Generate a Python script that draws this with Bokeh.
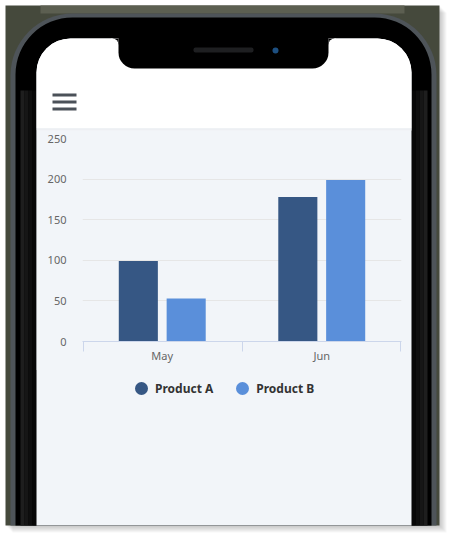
from bokeh.plotting import figure
from bokeh.layouts import column
from bokeh.models import (FactorRange, Range1d, FixedTicker, CategoricalAxis,
                          CategoricalScale, BoxAnnotation, Legend, LegendItem)
from bokeh.transform import dodge
from bokeh.embed import file_html
from bokeh.resources import INLINE

# chart data
months = ["May", "Jun"]
product_a = [99, 178]
product_b = [53, 199]
y_ticks = [0, 50, 100, 150, 200, 250]
series_names = ["Product A", "Product B"]

COLOR_A = "#365784"
COLOR_B = "#5a8fda"
SCREEN_BG = "#f2f5f9"
AXIS_COLOR = "#ccd6eb"
FONT = "Noto Sans"

PAGE_W, PAGE_H = 454, 540
CHART_X, CHART_Y = 36, 130

# --- phone mockup, drawn in page pixels ---
phone = figure(width=PAGE_W, height=PAGE_H, x_range=Range1d(0, PAGE_W),
               y_range=Range1d(PAGE_H, 0), output_backend="svg",
               toolbar_location=None, x_axis_location=None, y_axis_location=None,
               min_border=0)
phone.frame_align = False
phone.grid.visible = False
phone.outline_line_color = None
phone.background_fill_color = "white"
phone.border_fill_color = "white"


def box(l, t, r, b, color, radius=0, alpha=1.0):
    phone.add_layout(BoxAnnotation(left=l, right=r, top=t, bottom=b,
                                   fill_color=color, fill_alpha=alpha,
                                   line_color=None, border_radius=radius))


for d in range(1, 8):
    box(5 + d, 5 + d, 439 + d, 525 + d, "black", alpha=0.03)
box(5, 5, 439, 525, "#45493c")
box(40, 5, 404, 13, "#5c5f51")
box(10, 13, 436, 525, "#4e5459", radius=(62, 62, 0, 0))
box(15, 17, 431, 525, "#000000", radius=(57, 57, 0, 0))
for i, c in enumerate(["#1e1e1e", "#161616", "#0e0e0e", "#070707"]):
    box(20 + 4 * i, 90, 24 + 4 * i, 525, c)
    box(423 - 4 * i, 90, 427 - 4 * i, 525, c)
box(36, 38, 411, 525, SCREEN_BG, radius=(34, 34, 0, 0))
box(36, 38, 411, 128, "white", radius=(34, 34, 0, 0))
box(36, 128, 411, 129, "#e6e9ed")
box(36, 129, 411, 130, "#edf0f3")
# notch with small fillets
box(112, 38, 118, 44, "black")
box(328, 38, 334, 44, "black")
box(106, 38, 118, 50, "white", radius=6)
box(328, 38, 340, 50, "white", radius=6)
box(118, 30, 328, 68, "black", radius=(0, 0, 16, 16))
box(193, 47, 253, 52, "#1e1f21", radius=2)
box(272, 47, 278, 53, "#1d4f80", radius=3)
# hamburger
for y in (93, 100, 107):
    box(52, y, 76, y + 3, "#4b5158")

# legend lives on the screen area of the phone figure (hidden sample glyphs)
ga = phone.scatter(x=[0], y=[0], marker="circle", size=8, line_width=5,
                   fill_color=COLOR_A, line_color=COLOR_A, visible=False)
gb = phone.scatter(x=[0], y=[0], marker="circle", size=8, line_width=5,
                   fill_color=COLOR_B, line_color=COLOR_B, visible=False)
legend = Legend(items=[LegendItem(label=series_names[0], renderers=[ga]),
                       LegendItem(label=series_names[1], renderers=[gb])],
                orientation="horizontal", location=(131, 142),
                glyph_width=20, glyph_height=20, label_standoff=4, spacing=19,
                padding=0, margin=0, border_line_color=None,
                background_fill_alpha=0,
                label_text_font=FONT, label_text_font_style="bold",
                label_text_font_size="12px", label_text_color="#333333")
phone.add_layout(legend)

# --- chart, laid over the phone screen ---
p = figure(x_range=FactorRange(factors=months), y_range=Range1d(0, 250),
           width=375, height=240,
           output_backend="svg", toolbar_location=None, x_axis_location=None,
           min_border_left=46, min_border_right=10,
           min_border_top=8, min_border_bottom=29)
p.frame_align = False
p.styles = {"position": "absolute", "left": "%dpx" % CHART_X, "top": "%dpx" % CHART_Y}
p.background_fill_color = SCREEN_BG
p.border_fill_color = SCREEN_BG
p.outline_line_color = None

p.vbar(x=dodge("x", -0.15, range=p.x_range), top="top", width=0.245,
       source=dict(x=months, top=product_a), fill_color=COLOR_A, line_color=None)
p.vbar(x=dodge("x", 0.15, range=p.x_range), top="top", width=0.245,
       source=dict(x=months, top=product_b), fill_color=COLOR_B, line_color=None)

p.yaxis.ticker = FixedTicker(ticks=y_ticks)
p.yaxis.axis_line_color = None
p.yaxis.major_tick_line_color = None
p.yaxis.minor_tick_line_color = None
p.yaxis.major_tick_out = 0
p.yaxis.major_label_standoff = 16
p.yaxis.major_label_text_font = FONT
p.yaxis.major_label_text_font_size = "11px"
p.yaxis.major_label_text_color = "#666666"
p.ygrid.ticker = FixedTicker(ticks=y_ticks)
p.ygrid.grid_line_color = "#e6e6e6"
p.xgrid.grid_line_color = None

# tick marks sit between the categories: a second factor range of edges
edges = ["edge%d" % i for i in range(len(months) + 1)]
p.extra_x_ranges = {"edges": FactorRange(factors=edges, range_padding=-0.99 / len(edges))}
p.extra_x_scales = {"edges": CategoricalScale()}
tick_axis = CategoricalAxis(x_range_name="edges", axis_line_color=AXIS_COLOR,
                            major_tick_line_color=AXIS_COLOR, major_tick_out=10,
                            major_tick_in=0, major_label_standoff=0,
                            major_label_text_alpha=0, major_label_text_font_size="1px")
label_axis = CategoricalAxis(axis_line_color=None, major_tick_line_color=None,
                             major_tick_out=0, major_tick_in=0, major_label_standoff=-4,
                             major_label_text_font=FONT, major_label_text_font_size="11px",
                             major_label_text_color="#666666")
p.add_layout(tick_axis, "below")
p.add_layout(label_axis, "below")

page = column(phone, p)
open("out.html", "w").write(file_html(page, INLINE))
